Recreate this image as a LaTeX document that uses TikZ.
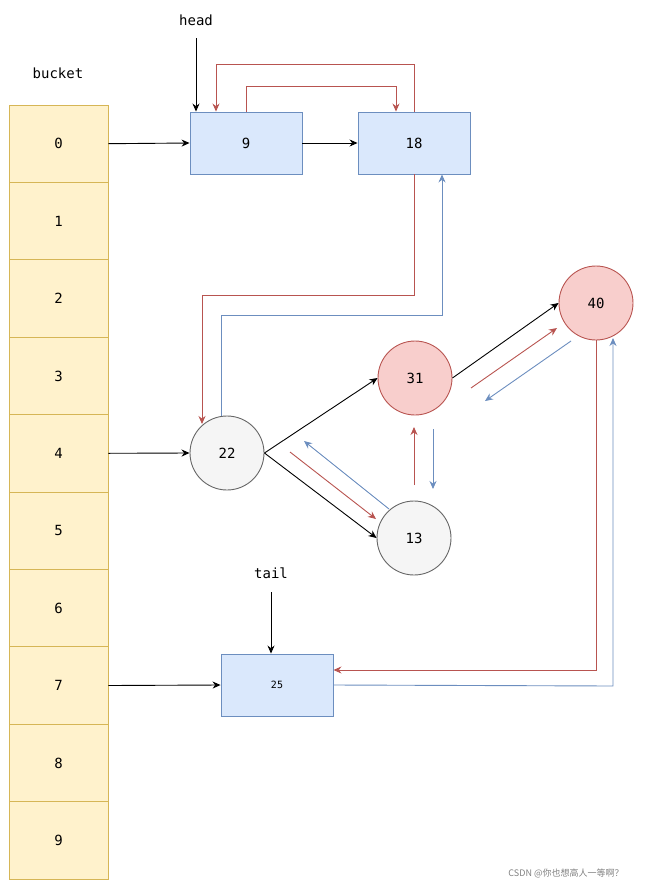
\documentclass[tikz,border=0pt]{standalone}
\usepackage{fontspec}
\setmainfont{DejaVu Sans Mono}
\newfontfamily\cjk{Noto Sans CJK SC}
\usetikzlibrary{arrows.meta}
\definecolor{bfill}{HTML}{FFF2CC}\definecolor{bdraw}{HTML}{D6B656}
\definecolor{lfill}{HTML}{DAE8FC}\definecolor{ldraw}{HTML}{6C8EBF}
\definecolor{rfill}{HTML}{F8CECC}\definecolor{rdraw}{HTML}{B85450}
\definecolor{gfill}{HTML}{F5F5F5}\definecolor{gdraw}{HTML}{666666}
\begin{document}
\begin{tikzpicture}[x=1pt,y=-1pt,font=\fontsize{14}{16}\selectfont,line width=0.9pt,
 cell/.style={draw=bdraw,fill=bfill,minimum width=99pt,minimum height=77.4pt,inner sep=0},
 box/.style={draw=ldraw,fill=lfill,minimum width=112pt,minimum height=62pt,inner sep=0},
 rc/.style={circle,draw=rdraw,fill=rfill,minimum size=74pt,inner sep=0},
 gc/.style={circle,draw=gdraw,fill=gfill,minimum size=74pt,inner sep=0},
 blk/.style={-{Stealth[length=8pt,width=7pt]},draw=black},
 rarr/.style={-{Stealth[length=8pt,width=7pt]},draw=rdraw},
 barr/.style={-{Stealth[length=8pt,width=7pt]},draw=ldraw}]
\useasboundingbox (0,0) rectangle (647,886);
\foreach \i in {0,...,9}{\node[cell] (c\i) at (58.5,{143.7+77.4*\i}) {\i};}
\node (bk) at (58,73) {bucket};
\node (hd) at (196,20) {head};
\node (tl) at (271,573) {tail};
\node[box] (n9) at (246,143) {9};
\node[box] (n18) at (414,143) {18};
\node[box,font=\fontsize{10}{12}\selectfont] (n25) at (277,685) {25};
\node[gc] (n22) at (227,453) {22};
\node[rc] (n31) at (415,378) {31};
\node[gc] (n13) at (414,538) {13};
\node[rc] (n40) at (596,303) {40};
\coordinate (h1) at (196,38); \coordinate (t1) at (271,592);
\draw[blk] (h1) -- (n9.north -| h1);
\draw[blk] (t1) -- (n25.north -| t1);
\draw[blk] (c0.east) -- (n9.west);
\draw[blk] (c4.east) -- (n22.west);
\draw[blk] (c7.east) -- (n25.west);
\draw[blk] (n9) -- (n18);
\draw[blk] (n22.east) -- (n31.west);
\draw[blk] (n22.east) -- (n13.west);
\draw[blk] (n31.east) -- (n40.west);
\draw[rarr] (n18.north) -- ++(0,-47) -| ([xshift=-30pt]n9.north);
\draw[rarr] (n9.north) -- ++(0,-25) -| ([xshift=-18pt]n18.north);
\draw[rarr] (n18.south) -- (414,295) -| (202,424);
\draw[barr] (221,416) |- (442,315) -- ([xshift=28pt]n18.south);
\coordinate (a1) at (290,452); \coordinate (a2) at (376,519);
\coordinate (b1) at (389,509); \coordinate (b2) at (304,441);
\draw[rarr] (a1) -- (a2); \draw[barr] (b1) -- (b2);
\coordinate (a3) at (414,485); \coordinate (a4) at (414,427);
\coordinate (b3) at (433,429); \coordinate (b4) at (433,489);
\draw[rarr] (a3) -- (a4); \draw[barr] (b3) -- (b4);
\coordinate (a5) at (471,388); \coordinate (a6) at (557,328);
\coordinate (b5) at (571,341); \coordinate (b6) at (485,401);
\draw[rarr] (a5) -- (a6); \draw[barr] (b5) -- (b6);
\draw[rarr] (n40.south) -- (596,670) -- (n25.east |- 0,670);
\draw[barr] (n25.east) -- (613,686) -- (613,338);
\node[text=gray,font=\fontsize{9}{10}\selectfont\cjk] (wm) at (566,873) {CSDN @你也想高人一等啊？};
\end{tikzpicture}
\end{document}
